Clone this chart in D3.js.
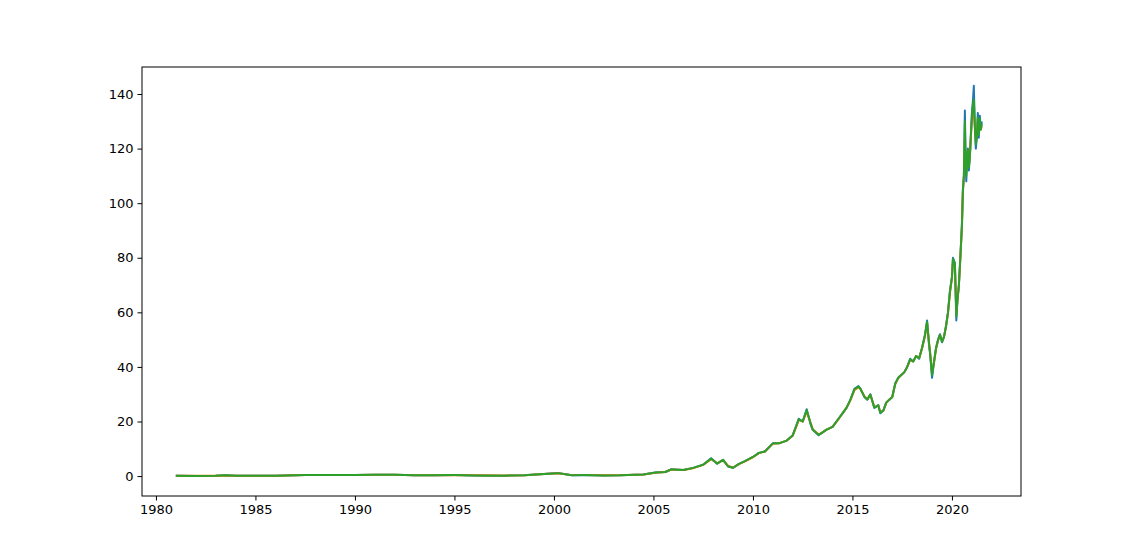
<!DOCTYPE html>
<html><head><meta charset="utf-8">
<script src="https://cdn.jsdelivr.net/npm/d3@7"></script>
<style>body{margin:0;background:#fff}</style></head>
<body><svg id="c" width="1135" height="557"></svg>
<script>
const dates = [1981,1982,1983,1983.5,1984,1985,1986,1987.5,1988,1989,1990,1991,1992,1993,1994,1995,1996,1997.5,1998.5,1999.5,2000.2,2000.9,2001.5,2002.5,2003.3,2004.5,2005.1,2005.6,2005.9,2006.5,2007,2007.5,2007.9,2008.2,2008.5,2008.75,2009,2009.3,2009.6,2010,2010.3,2010.6,2011,2011.3,2011.7,2012,2012.2,2012.3,2012.5,2012.7,2012.9,2013,2013.3,2013.5,2013.7,2014,2014.3,2014.5,2014.7,2014.9,2015.1,2015.3,2015.4,2015.6,2015.75,2015.9,2016.1,2016.3,2016.4,2016.55,2016.7,2016.85,2017,2017.15,2017.3,2017.45,2017.6,2017.75,2017.9,2018.05,2018.2,2018.35,2018.5,2018.65,2018.75,2018.85,2018.9,2019.0,2019.1,2019.2,2019.3,2019.4,2019.5,2019.6,2019.7,2019.8,2019.9,2020.0,2020.05,2020.1,2020.15,2020.22,2020.28,2020.35,2020.42,2020.5,2020.55,2020.6,2020.65,2020.68,2020.72,2020.76,2020.8,2020.85,2020.9,2020.95,2021.0,2021.05,2021.1,2021.15,2021.2,2021.25,2021.3,2021.35,2021.4,2021.45,2021.5];
const closeVals = [0.1,0.05,0.1,0.3,0.1,0.1,0.15,0.4,0.35,0.4,0.35,0.45,0.5,0.3,0.3,0.35,0.25,0.15,0.3,0.8,1.1,0.3,0.35,0.25,0.3,0.6,1.3,1.5,2.5,2.2,3,4.2,6.5,4.5,6,3.5,3,4.5,5.5,7,8.5,9,12,12,13,15,19,21,20,24.5,19,17,15,16,17,18,21,23,25,28,32,33,32,29,28,30,25,26,23,24,27,28,29,34,36,37,38,40,43,42,44,43,47,52,57,48,45,36,42,47,50,52,49,51,55,60,68,73,80,79,78,57,65,70,80,92,105,110,134,118,108,116,120,112,117,125,133,137,143,128,120,124,133,124,132,127,130];
const smoothVals = [0.1,0.08,0.1,0.25,0.12,0.1,0.15,0.35,0.35,0.4,0.35,0.45,0.48,0.32,0.3,0.34,0.26,0.17,0.3,0.75,1.05,0.35,0.35,0.26,0.3,0.58,1.25,1.5,2.4,2.2,2.9,4.1,6.2,4.7,5.8,3.8,3.1,4.4,5.4,6.9,8.4,9,11.8,12,13,14.8,18.5,20.5,20,23.5,19.5,17.2,15.3,16,17,18,20.8,23,25,27.8,31.5,32.5,32,29.3,28.2,29.8,25.3,25.8,23.4,24,26.8,28,29,33.6,35.8,37,38,40,42.5,42,44,43.3,46.8,51.5,56,49,45.5,38,41.5,46.5,49.6,51.6,49.5,51,54.6,59.5,67,72.5,78.5,79,76,60,64.5,70,79.5,91,104,110,124,117,112,116,119,114,117,124,130,134,133,129,123,125,130,126,130,127,128];
const greenVals = [0.1,0.06,0.1,0.28,0.11,0.1,0.15,0.38,0.35,0.4,0.35,0.45,0.5,0.31,0.3,0.35,0.25,0.16,0.3,0.78,1.08,0.32,0.35,0.25,0.3,0.6,1.28,1.5,2.45,2.2,3,4.15,6.4,4.6,5.9,3.6,3.05,4.5,5.5,7,8.5,9,12,12,13,14.9,18.8,20.8,20,24.2,19.2,17.1,15.1,16,17,18,21,23,25,28,31.8,32.8,32,29.1,28.1,29.9,25.1,25.9,23.2,24,26.9,28,29,33.8,36,37,38,40,42.8,42,44,43.2,47,51.8,56.5,48.5,45.2,37,41.8,46.8,49.8,51.8,49.2,51,54.8,59.8,67.5,72.8,79.5,79,77,58.5,64.8,70,79.8,91.5,104.5,110,130,118,110,116,119.5,113,117,124.5,131,136,138,128.5,121.5,124.5,131.5,125,131,127,129];
const xTicks = [1980,1985,1990,1995,2000,2005,2010,2015,2020];
const yTicks = [0,20,40,60,80,100,120,140];

const svg = d3.select("#c");
const L=142,R=1021,T=67,B=496;
const x = d3.scaleLinear().domain([1979.30,2023.47]).range([L,R]);
const y = d3.scaleLinear().domain([-7.3,149.9]).range([B,T]);
const line = vals => d3.line().x((d,i)=>x(dates[i])).y(d=>y(d))(vals);
const g = svg.append("g");
[[closeVals,"#1f77b4"],[smoothVals,"#ff7f0e"],[greenVals,"#2ca02c"]].forEach(([v,c])=>{
  g.append("path").attr("d",line(v)).attr("fill","none").attr("stroke",c).attr("stroke-width",2).attr("stroke-linejoin","round");
});
svg.append("rect").attr("x",L).attr("y",T).attr("width",R-L).attr("height",B-T).attr("fill","none").attr("stroke","#000").attr("stroke-width",1);
const xa = svg.append("g").attr("transform",`translate(0,${B})`).call(d3.axisBottom(x).tickValues(xTicks).tickFormat(d3.format("d")).tickSize(4.5).tickPadding(4));
const ya = svg.append("g").attr("transform",`translate(${L},0)`).call(d3.axisLeft(y).tickValues(yTicks).tickSize(4.5).tickPadding(4));
[xa,ya].forEach(a=>{a.select(".domain").remove();a.selectAll("text").attr("font-family","DejaVu Sans").attr("font-size",13).attr("fill","#000");});
</script></body></html>
